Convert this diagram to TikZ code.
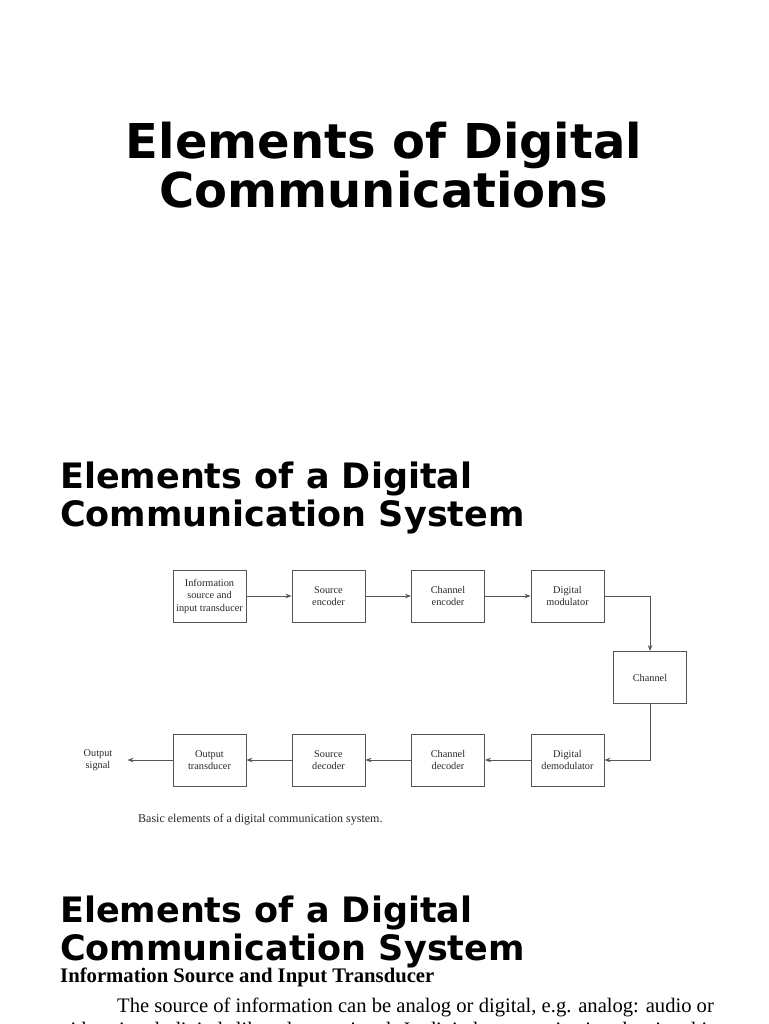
\documentclass[tikz,border=0pt]{standalone}
\usepackage{fontspec}
\setmainfont{Liberation Serif}
\newfontfamily\headfont{DejaVu Sans}
\usetikzlibrary{arrows.meta, positioning}
\definecolor{lineg}{RGB}{85, 85, 85}
\definecolor{textg}{RGB}{40, 40, 40}

\begin{document}
\begin{tikzpicture}[x=1pt, y=-1pt,
  block/.style={draw=lineg, line width=0.9pt, minimum width=73pt, minimum height=52pt,
    align=center, inner sep=0pt, text=textg, font=\fontsize{10.3}{12.5}\selectfont},
  arr/.style={draw=lineg, line width=0.8pt, -{Stealth[length=6pt, width=4.5pt]}},
  bigtitle/.style={anchor=base, inner sep=0pt, font=\headfont\bfseries\fontsize{48}{56}\selectfont},
  subtitle/.style={anchor=base west, inner sep=0pt, font=\headfont\bfseries\fontsize{35}{40}\selectfont}]

  \useasboundingbox (0,0) rectangle (768,1024);

  % title page
  \node[bigtitle] (t1) at (384,159) {Elements of Digital};
  \node[bigtitle] (t2) at (384,208) {Communications};

  % slide 2 heading
  \node[subtitle] (h1) at (60,488) {Elements of a Digital};
  \node[subtitle] (h2) at (60,526) {Communication System};

  % transmitter row
  \node[block] (info) at (209.5,596) {Information\\source and\\input transducer};
  \node[block] (senc) at (328.5,596) {Source\\encoder};
  \node[block] (cenc) at (448,596) {Channel\\encoder};
  \node[block] (dmod) at (567.5,596) {Digital\\modulator};

  \node[block] (chan) at (650,677.5) {Channel};

  % receiver row
  \node[block] (ddem) at (567.5,760) {Digital\\demodulator};
  \node[block] (cdec) at (448,760) {Channel\\decoder};
  \node[block] (sdec) at (328.5,760) {Source\\decoder};
  \node[block] (otr) at (209.5,760) {Output\\transducer};
  \node[align=center, text=textg, font=\fontsize{10.3}{12.5}\selectfont, inner xsep=15pt] (osig) at (98,760) {Output\\signal};

  \draw[arr] (info) -- (senc);
  \draw[arr] (senc) -- (cenc);
  \draw[arr] (cenc) -- (dmod);
  \draw[arr] (dmod.east) -| (chan.north);
  \draw[arr] (chan.south) |- (ddem.east);
  \draw[arr] (ddem) -- (cdec);
  \draw[arr] (cdec) -- (sdec);
  \draw[arr] (sdec) -- (otr);
  \draw[arr] (otr.west) -- (osig.east);

  \node[anchor=base west, inner sep=0pt, text=textg, font=\fontsize{12}{14}\selectfont] (cap) at (138,822)
    {Basic elements of a digital communication system.};

  % slide 3
  \node[subtitle] (h3) at (60,922) {Elements of a Digital};
  \node[subtitle] (h4) at (60,960) {Communication System};
  \node[anchor=base west, inner sep=0pt, font=\bfseries\fontsize{20.7}{24}\selectfont] (sec) at (60,982)
    {Information Source and Input Transducer};
  \node[anchor=base west, inner sep=0pt, font=\fontsize{20.6}{24}\selectfont] (p1) at (117,1012)
    {The source of information can be analog or digital, e.g. analog: audio or};
  \node[anchor=base west, inner sep=0pt, font=\fontsize{20.6}{24}\selectfont] (p2) at (60,1036)
    {video signal, digital: like teletype signal. In digital communication the signal is};
\end{tikzpicture}
\end{document}
